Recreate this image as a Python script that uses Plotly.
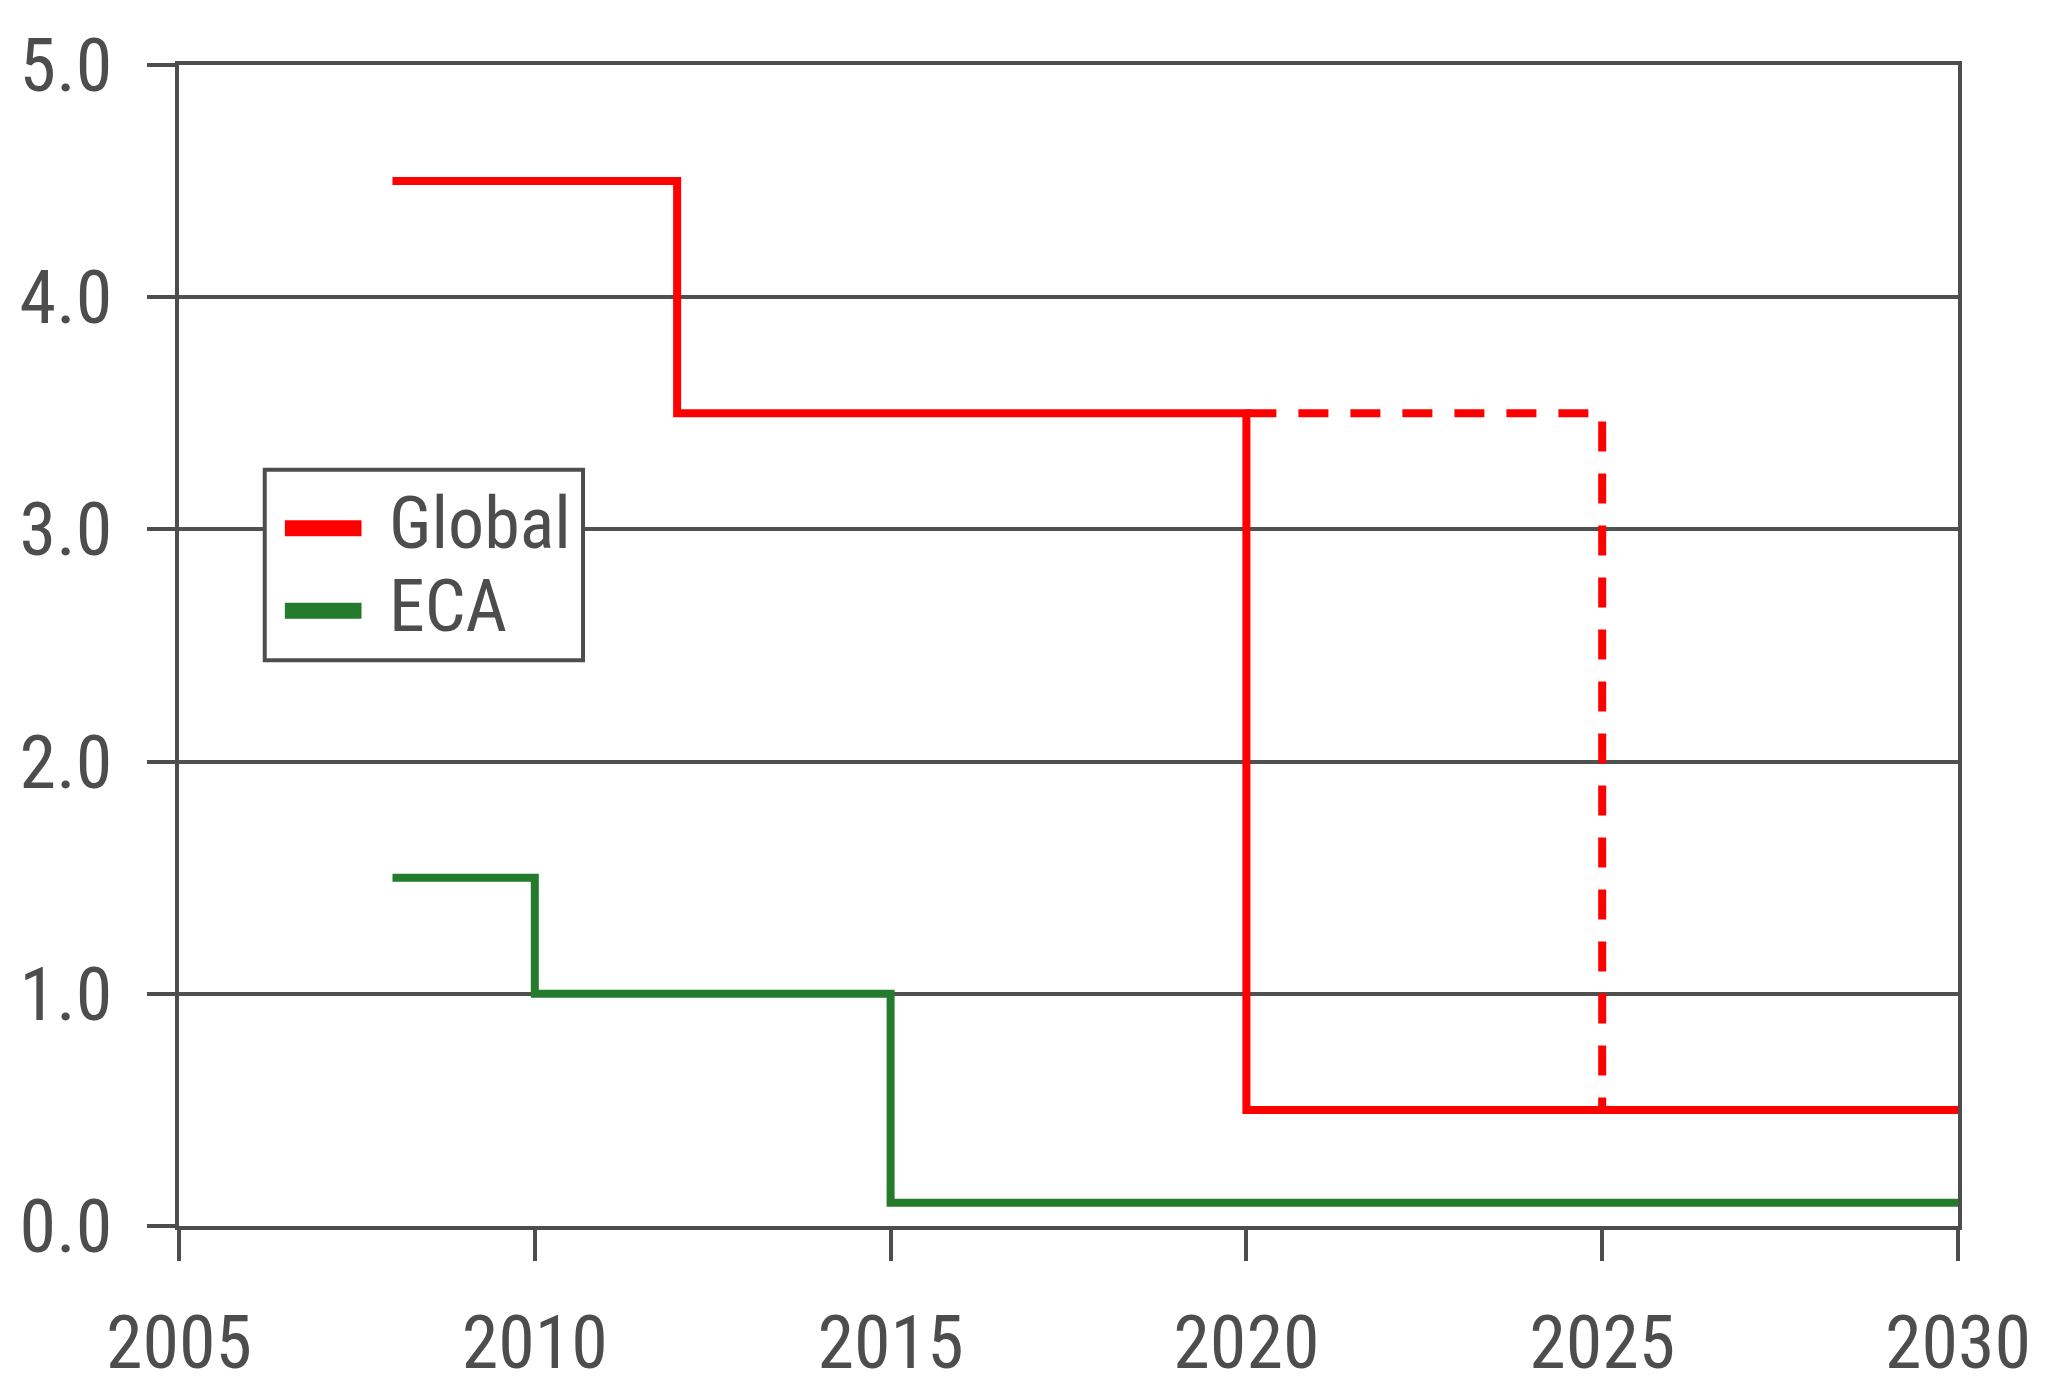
import plotly.graph_objects as go

# step data
global_years = [2008, 2012, 2020, 2030]
global_vals = [4.5, 3.5, 0.5, 0.5]
delayed_years = [2020, 2025]
delayed_vals = [3.5, 0.5]
eca_years = [2008, 2010, 2015, 2030]
eca_vals = [1.5, 1.0, 0.1, 0.1]

legend_names = ["Global", "ECA"]
legend_colors = ["#ff0000", "#237b2b"]

GREY = "#4d4d4d"
FONT = "Roboto Condensed, Archivo Narrow, Liberation Sans Narrow, Arial Narrow, sans-serif"

fig = go.Figure()
fig.add_trace(go.Scatter(x=global_years, y=global_vals, mode="lines", line_shape="hv",
                         line=dict(color=legend_colors[0], width=8), name="Global", showlegend=False))
fig.add_trace(go.Scatter(x=delayed_years, y=delayed_vals, mode="lines", line_shape="hv",
                         line=dict(color=legend_colors[0], width=8, dash="30px,22px"), showlegend=False))
fig.add_trace(go.Scatter(x=eca_years, y=eca_vals, mode="lines", line_shape="hv",
                         line=dict(color=legend_colors[1], width=8), name="ECA", showlegend=False))

# hand-made legend box (plotly's own legend symbol is too short)
shapes = [dict(type="rect", xref="paper", yref="paper", x0=0.0482, x1=0.2271, y0=0.4872, y1=0.6513,
               line=dict(color=GREY, width=4), fillcolor="white", layer="above")]
annotations = []
for i, (nm, col) in enumerate(zip(legend_names, legend_colors)):
    yy = 0.6009 - i * 0.0710
    shapes.append(dict(type="line", xref="paper", yref="paper", x0=0.0595, x1=0.1026, y0=yy, y1=yy,
                       line=dict(color=col, width=16), layer="above"))
    annotations.append(dict(xref="paper", yref="paper", x=0.1167, y=yy + 0.004, text=nm, showarrow=False,
                            xanchor="left", yanchor="middle",
                            font=dict(family=FONT, size=72, color=GREY)))

fig.update_layout(
    width=2048, height=1390,
    margin=dict(l=167, r=98, t=57, b=163),
    paper_bgcolor="white", plot_bgcolor="white",
    showlegend=False,
    shapes=shapes, annotations=annotations,
    font=dict(family=FONT, color=GREY),
)
fig.update_xaxes(range=[2005, 2030], dtick=5, tick0=2005, showgrid=False, zeroline=False,
                 showline=True, mirror=True, linecolor=GREY, linewidth=4,
                 ticks="outside", ticklen=31, tickwidth=4, tickcolor=GREY,
                 ticklabelstandoff=18, ticklabeloverflow="allow",
                 tickfont=dict(family=FONT, size=74, color=GREY))
fig.update_yaxes(range=[0, 5], dtick=1, tick0=0, tickformat=".1f",
                 showgrid=True, gridcolor="#505050", gridwidth=4, zeroline=False,
                 showline=True, mirror=True, linecolor=GREY, linewidth=4,
                 ticks="outside", ticklen=28, tickwidth=4, tickcolor=GREY,
                 ticklabelstandoff=20, tickfont=dict(family=FONT, size=74, color=GREY))

fig.write_html("out.html")
